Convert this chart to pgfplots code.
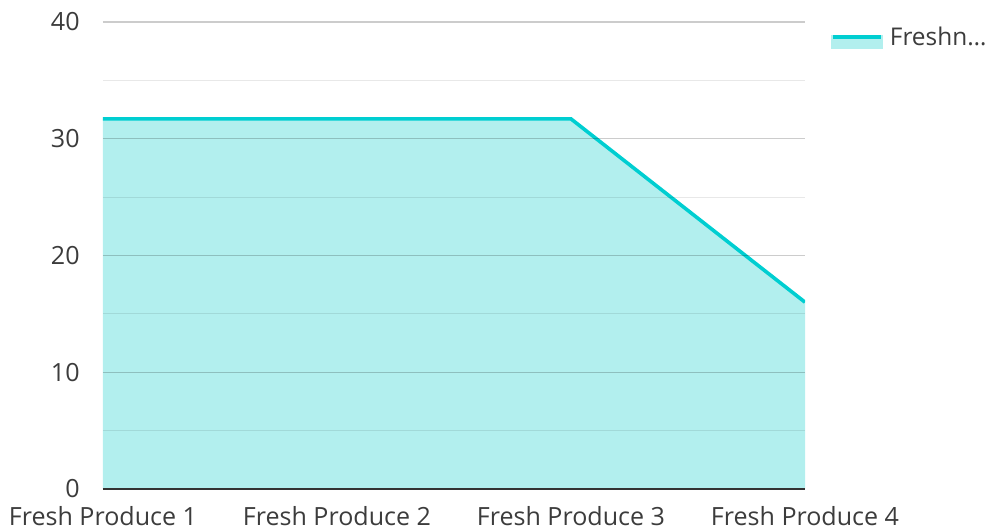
\documentclass[border=0pt]{standalone}
\usepackage{pgfplots}
\pgfplotsset{compat=1.18}
\usepackage{fontspec}
\setmainfont{Open Sans}
\definecolor{linec}{RGB}{0,206,209}
\definecolor{fillc}{RGB}{178,239,238}
\definecolor{txt}{RGB}{60,60,60}
\begin{document}
\begin{tikzpicture}
\path[use as bounding box] (0,0) rectangle (743.25pt,397.5pt);
\begin{axis}[
  at={(77.25pt,30.75pt)}, anchor=south west,
  scale only axis, width=526.5pt, height=350.25pt,
  xmin=0, xmax=3, ymin=0, ymax=40,
  xtick={0,1,2,3},
  xticklabels={Fresh Produce 1,Fresh Produce 2,Fresh Produce 3,Fresh Produce 4},
  ytick={0,10,20,30,40},
  minor ytick={5,15,25,35},
  ymajorgrids, yminorgrids,
  major grid style={draw=black, opacity=0.2, line width=0.9pt},
  minor grid style={draw=black, opacity=0.09, line width=0.9pt},
  axis on top,
  axis lines*=left,
  y axis line style={draw=none},
  x axis line style={draw={rgb,255:red,51;green,51;blue,51}, line width=1.5pt, -},
  major tick length=0pt, minor tick length=0pt,
  tick label style={font=\fontsize{18.8}{22}\selectfont, text=txt},
  /pgf/number format/assume math mode=true,
  yticklabel style={xshift=-14pt},
  xticklabel style={yshift=-9.5pt},
  legend style={at={(1.037,0.968)}, anchor=west, draw=none, fill=none, inner sep=0pt,
    font=\fontsize{18.3}{22}\selectfont, text=txt, legend cell align=left,
    column sep=3pt},
  legend image code/.code={
    \fill[fillc] (0pt,-8pt) rectangle (36pt,0pt);
    \draw[linec, line width=3pt] (0pt,0pt) -- (36pt,0pt);
  },
]
\addplot[draw=none, fill=fillc, forget plot] coordinates {(0,31.7) (1,31.7) (2,31.7) (3,16.0)} \closedcycle;
\addplot[linec, line width=2.7pt] coordinates {(0,31.7) (1,31.7) (2,31.7) (3,16.0)};
\addlegendentry{Freshn…}
\end{axis}
\end{tikzpicture}
\end{document}
